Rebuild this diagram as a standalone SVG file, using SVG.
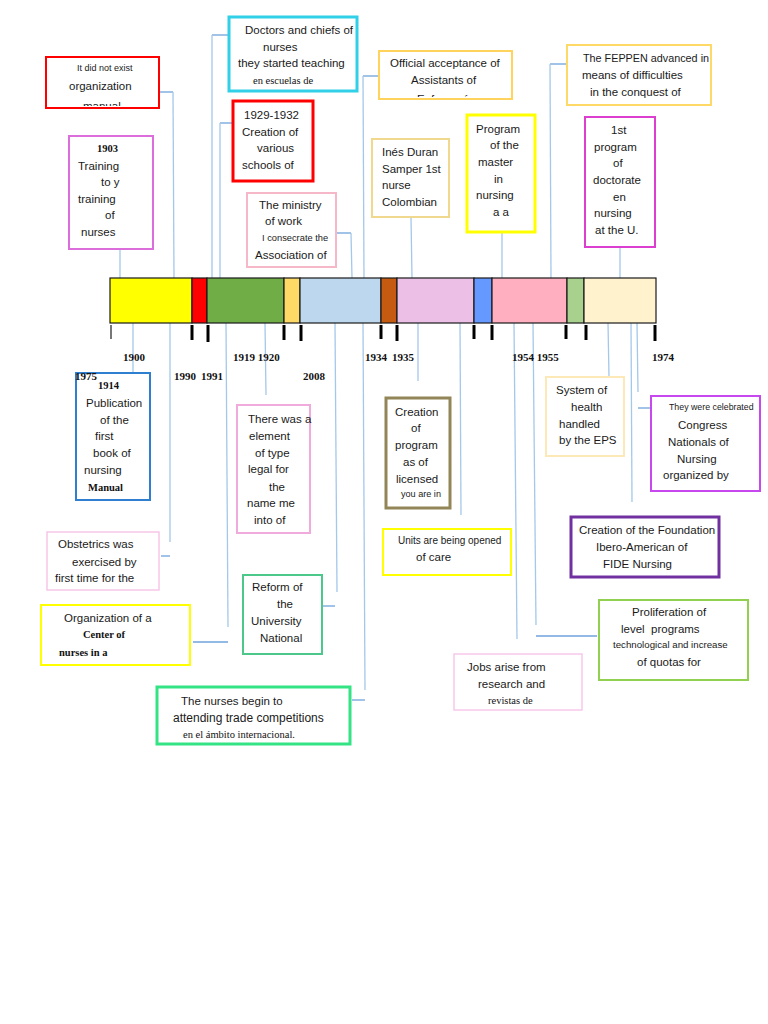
<svg xmlns="http://www.w3.org/2000/svg" width="768" height="1024" viewBox="0 0 768 1024">
<style>
.t{font-family:"Liberation Sans",Arial,sans-serif;font-size:11.5px;fill:#1a1a1a}
.s9{font-size:9px}
.s10{font-size:10px}
.b{font-family:"Liberation Serif","Times New Roman",serif;font-weight:bold;font-size:10.5px;fill:#111}
.y{font-family:"Liberation Serif","Times New Roman",serif;font-weight:bold;font-size:11px;fill:#111}
.sr{font-family:"Liberation Serif","Times New Roman",serif;font-size:10.5px;fill:#111}
.bx{fill:#fff}
.c{stroke:#a4c8ea;stroke-width:1.3;fill:none}
.h{stroke:#6fa3dc;stroke-width:1.3;fill:none}
.seg{stroke:#1a1a1a;stroke-width:1.2}
.tk{stroke:#000;stroke-width:3}
</style>
<defs>
<clipPath id="clipA"><rect x="47" y="58" width="111" height="48"/></clipPath>
<clipPath id="clipF"><rect x="380" y="52" width="131" height="45"/></clipPath>
</defs>
<rect width="768" height="1024" fill="#fff"/>

<g id="connectors">
<polyline class="h" points="159,92 173,92"/>
<line class="c" x1="173" y1="92" x2="174" y2="278"/>
<line class="c" x1="120" y1="249" x2="120" y2="278"/>
<polyline class="h" points="228,35 212,35"/>
<line class="c" x1="212" y1="35" x2="212" y2="278"/>
<polyline class="h" points="232,123 220,123"/>
<line class="c" x1="220" y1="123" x2="220" y2="278"/>
<polyline class="h" points="337,233 351,233"/>
<line class="c" x1="351" y1="233" x2="352" y2="278"/>
<polyline class="h" points="378,76 363,76"/>
<line class="c" x1="363" y1="76" x2="364" y2="278"/>
<line class="c" x1="411" y1="217" x2="412" y2="278"/>
<line class="c" x1="502" y1="232" x2="502" y2="278"/>
<polyline class="h" points="566,64 550,64"/>
<line class="c" x1="550" y1="64" x2="551" y2="278"/>
<line class="c" x1="620" y1="247" x2="620" y2="278"/>

<line class="c" x1="133" y1="323" x2="133" y2="373"/>
<line class="c" x1="170" y1="323" x2="170" y2="542"/>
<line class="h" x1="161" y1="556" x2="170" y2="556"/>
<line class="c" x1="226" y1="323" x2="228" y2="627"/>
<line class="h" x1="193" y1="642" x2="228" y2="642"/>
<line class="c" x1="265" y1="323" x2="266" y2="395"/>
<line class="c" x1="335" y1="323" x2="337" y2="592"/>
<line class="h" x1="323" y1="606" x2="335" y2="606"/>
<line class="c" x1="363" y1="323" x2="365" y2="690"/>
<line class="h" x1="352" y1="700" x2="365" y2="700"/>
<line class="c" x1="418" y1="323" x2="418" y2="381"/>
<line class="c" x1="460" y1="323" x2="461" y2="515"/>
<line class="c" x1="514" y1="323" x2="517" y2="639"/>
<line class="c" x1="533" y1="323" x2="536" y2="625"/>
<line class="h" x1="536" y1="636" x2="597" y2="636"/>
<line class="c" x1="608" y1="323" x2="609" y2="377"/>
<line class="c" x1="631" y1="323" x2="632" y2="502"/>
<line class="c" x1="637" y1="323" x2="638" y2="392"/>
<line class="h" x1="638" y1="408" x2="650" y2="408"/>
</g>

<g id="timeline">
<rect class="seg" x="110" y="278" width="82" height="45" fill="#ffff00"/>
<rect class="seg" x="192" y="278" width="15" height="45" fill="#ff0000"/>
<rect class="seg" x="207" y="278" width="77" height="45" fill="#70ad47"/>
<rect class="seg" x="284" y="278" width="16" height="45" fill="#ffd966"/>
<rect class="seg" x="300" y="278" width="81" height="45" fill="#bdd7ee"/>
<rect class="seg" x="381" y="278" width="16" height="45" fill="#c55a11"/>
<rect class="seg" x="397" y="278" width="77" height="45" fill="#ecc0e6"/>
<rect class="seg" x="474" y="278" width="18" height="45" fill="#6699ff"/>
<rect class="seg" x="492" y="278" width="75" height="45" fill="#ffafc0"/>
<rect class="seg" x="567" y="278" width="17" height="45" fill="#a9d18e"/>
<rect class="seg" x="584" y="278" width="72" height="45" fill="#fff2cc"/>
<line x1="111" y1="325" x2="111" y2="339" stroke="#777" stroke-width="2"/>
<line class="tk" x1="192" y1="325" x2="192" y2="340"/>
<line class="tk" x1="208" y1="325" x2="208" y2="342"/>
<line class="tk" x1="284" y1="325" x2="284" y2="340"/>
<line class="tk" x1="301" y1="325" x2="301" y2="341"/>
<line class="tk" x1="381" y1="325" x2="381" y2="339"/>
<line class="tk" x1="397" y1="325" x2="397" y2="341"/>
<line class="tk" x1="474" y1="325" x2="474" y2="339"/>
<line class="tk" x1="492" y1="325" x2="492" y2="340"/>
<line class="tk" x1="566" y1="325" x2="566" y2="339"/>
<line class="tk" x1="586" y1="325" x2="586" y2="340"/>
<line class="tk" x1="655" y1="325" x2="655" y2="341"/>
<text class="y" x="123" y="361">1900</text>
<text class="y" x="233" y="361">1919 1920</text>
<text class="y" x="365" y="361">1934</text>
<text class="y" x="392" y="361">1935</text>
<text class="y" x="512" y="361">1954 1955</text>
<text class="y" x="652" y="361">1974</text>
<text class="y" x="174" y="380">1990</text>
<text class="y" x="201" y="380">1991</text>
<text class="y" x="303" y="380">2008</text>
</g>

<g id="n-no-org">
<rect class="bx" x="46" y="57" width="113" height="51" stroke="#ff0000" stroke-width="2"/>
<text class="t s9" x="77" y="71">It did not exist</text>
<text class="t" x="69" y="90">organization</text>
<g clip-path="url(#clipA)"><text class="t" x="83" y="110">manual</text></g>
</g>

<g id="n-1903">
<rect class="bx" x="69" y="136" width="84" height="113" stroke="#dc6edc" stroke-width="2"/>
<text class="b" x="97" y="152">1903</text>
<text class="t" x="78" y="170">Training</text>
<text class="t" x="101" y="186">to y</text>
<text class="t" x="78" y="203">training</text>
<text class="t" x="105" y="219">of</text>
<text class="t" x="81" y="236">nurses</text>
</g>

<g id="n-doctors">
<rect class="bx" x="229" y="17" width="128" height="74" stroke="#30d0e8" stroke-width="3"/>
<text class="t" x="245" y="34">Doctors and chiefs of</text>
<text class="t" x="263" y="51">nurses</text>
<text class="t" x="238" y="67">they started teaching</text>
<text class="sr" x="253" y="84">en escuelas de</text>
</g>

<g id="n-1929">
<rect class="bx" x="233" y="101" width="80" height="80" stroke="#ff0000" stroke-width="3"/>
<text class="t" x="244" y="119">1929-1932</text>
<text class="t" x="242" y="136">Creation of</text>
<text class="t" x="257" y="152">various</text>
<text class="t" x="242" y="169">schools of</text>
</g>

<g id="n-ministry">
<rect class="bx" x="247" y="193" width="89" height="74" stroke="#f6b8c8" stroke-width="2"/>
<text class="t" x="259" y="209">The ministry</text>
<text class="t" x="265" y="225">of work</text>
<text class="t" x="262" y="241" style="font-size:9.3px">I consecrate the</text>
<text class="t" x="255" y="259">Association of</text>
</g>

<g id="n-official">
<rect class="bx" x="379" y="51" width="133" height="48" stroke="#ffd35c" stroke-width="2"/>
<text class="t" x="390" y="67">Official acceptance of</text>
<text class="t" x="411" y="84">Assistants of</text>
<g clip-path="url(#clipF)"><text class="t" x="417" y="103">Enfermería</text></g>
</g>

<g id="n-ines">
<rect class="bx" x="372" y="139" width="77" height="78" stroke="#f0d88e" stroke-width="2"/>
<text class="t" x="382" y="156">Inés Duran</text>
<text class="t" x="382" y="173">Samper 1st</text>
<text class="t" x="382" y="189">nurse</text>
<text class="t" x="382" y="206">Colombian</text>
</g>

<g id="n-master">
<rect class="bx" x="467" y="115" width="68" height="117" stroke="#ffff00" stroke-width="3"/>
<text class="t" x="476" y="133">Program</text>
<text class="t" x="490" y="149">of the</text>
<text class="t" x="478" y="166">master</text>
<text class="t" x="494" y="183">in</text>
<text class="t" x="476" y="199">nursing</text>
<text class="t" x="493" y="216">a a</text>
</g>

<g id="n-feppen">
<rect class="bx" x="567" y="45" width="144" height="60" stroke="#ffd966" stroke-width="2"/>
<text class="t" x="583" y="62" style="font-size:10.8px">The FEPPEN advanced in</text>
<text class="t" x="582" y="79">means of difficulties</text>
<text class="t" x="590" y="96">in the conquest of</text>
</g>

<g id="n-doctorate">
<rect class="bx" x="585" y="117" width="70" height="130" stroke="#dc3fd0" stroke-width="2"/>
<text class="t" x="611" y="134">1st</text>
<text class="t" x="594" y="151">program</text>
<text class="t" x="613" y="167">of</text>
<text class="t" x="593" y="184">doctorate</text>
<text class="t" x="613" y="201">en</text>
<text class="t" x="594" y="217">nursing</text>
<text class="t" x="595" y="234">at the U.</text>
</g>

<g id="n-1914">
<rect class="bx" x="76" y="373" width="74" height="127" stroke="#2e7fd0" stroke-width="2"/>
<text class="b" x="98" y="389">1914</text>
<text class="t" x="86" y="407">Publication</text>
<text class="t" x="100" y="424">of the</text>
<text class="t" x="95" y="440">first</text>
<text class="t" x="93" y="457">book of</text>
<text class="t" x="84" y="474">nursing</text>
<text class="b" x="88" y="491">Manual</text>
</g>

<g id="year-1975">
<text class="y" x="75" y="380">1975</text>
</g>

<g id="n-legal">
<rect class="bx" x="237" y="405" width="73" height="128" stroke="#f0aadc" stroke-width="2"/>
<text class="t" x="248" y="423">There was a</text>
<text class="t" x="249" y="440">element</text>
<text class="t" x="255" y="457">of type</text>
<text class="t" x="248" y="473">legal for</text>
<text class="t" x="269" y="491">the</text>
<text class="t" x="247" y="507">name me</text>
<text class="t" x="254" y="524">into of</text>
</g>

<g id="n-obstetrics">
<rect class="bx" x="47" y="532" width="112" height="58" stroke="#f6c8e8" stroke-width="1.5"/>
<text class="t" x="58" y="548">Obstetrics was</text>
<text class="t" x="72" y="566">exercised by</text>
<text class="t" x="55" y="582">first time for the</text>
</g>

<g id="n-center">
<rect class="bx" x="41" y="605" width="149" height="60" stroke="#ffff00" stroke-width="2"/>
<text class="t" x="64" y="622">Organization of a</text>
<text class="b" x="83" y="638">Center of</text>
<text class="b" x="59" y="656">nurses in a</text>
</g>

<g id="n-reform">
<rect class="bx" x="243" y="575" width="79" height="79" stroke="#4cc98a" stroke-width="2"/>
<text class="t" x="252" y="591">Reform of</text>
<text class="t" x="277" y="608">the</text>
<text class="t" x="251" y="625">University</text>
<text class="t" x="260" y="642">National</text>
</g>

<g id="n-competitions">
<rect class="bx" x="157" y="687" width="193" height="57" stroke="#33e384" stroke-width="3"/>
<text class="t" x="181" y="705">The nurses begin to</text>
<text class="t" x="173" y="722" style="font-size:12px">attending trade competitions</text>
<text class="sr" x="183" y="738">en el ámbito internacional.</text>
</g>

<g id="n-licensed">
<rect class="bx" x="386" y="398" width="64" height="110" stroke="#928658" stroke-width="3"/>
<text class="t" x="395" y="416">Creation</text>
<text class="t" x="411" y="432">of</text>
<text class="t" x="395" y="449">program</text>
<text class="t" x="403" y="466">as of</text>
<text class="t" x="396" y="483">licensed</text>
<text class="t" x="401" y="497" style="font-size:9.1px">you are in</text>
</g>

<g id="n-units">
<rect class="bx" x="383" y="529" width="128" height="46" stroke="#ffff00" stroke-width="2"/>
<text class="t s10" x="398" y="544">Units are being opened</text>
<text class="t" x="416" y="561">of care</text>
</g>

<g id="n-jobs">
<rect class="bx" x="454" y="654" width="128" height="56" stroke="#f8c8ea" stroke-width="1.5"/>
<text class="t" x="467" y="671">Jobs arise from</text>
<text class="t" x="478" y="688">research and</text>
<text class="sr" x="488" y="704">revistas de</text>
</g>

<g id="n-eps">
<rect class="bx" x="546" y="377" width="78" height="79" stroke="#fde8b8" stroke-width="2"/>
<text class="t" x="556" y="394">System of</text>
<text class="t" x="571" y="411">health</text>
<text class="t" x="559" y="428">handled</text>
<text class="t" x="559" y="444">by the EPS</text>
</g>

<g id="n-congress">
<rect class="bx" x="651" y="396" width="109" height="95" stroke="#c848f0" stroke-width="2"/>
<text class="t" x="669" y="410" style="font-size:8.8px">They were celebrated</text>
<text class="t" x="678" y="429">Congress</text>
<text class="t" x="668" y="446">Nationals of</text>
<text class="t" x="677" y="463">Nursing</text>
<text class="t" x="663" y="479">organized by</text>
</g>

<g id="n-fide">
<rect class="bx" x="571" y="517" width="148" height="60" stroke="#7030a0" stroke-width="3"/>
<text class="t" x="579" y="534">Creation of the Foundation</text>
<text class="t" x="596" y="551">Ibero-American of</text>
<text class="t" x="603" y="568">FIDE Nursing</text>
</g>

<g id="n-proliferation">
<rect class="bx" x="599" y="600" width="149" height="80" stroke="#92d050" stroke-width="2"/>
<text class="t" x="632" y="616">Proliferation of</text>
<text class="t" x="621" y="633" xml:space="preserve">level  programs</text>
<text class="t" x="613" y="648" style="font-size:9.7px">technological and increase</text>
<text class="t" x="637" y="666">of quotas for</text>
</g>
</svg>
